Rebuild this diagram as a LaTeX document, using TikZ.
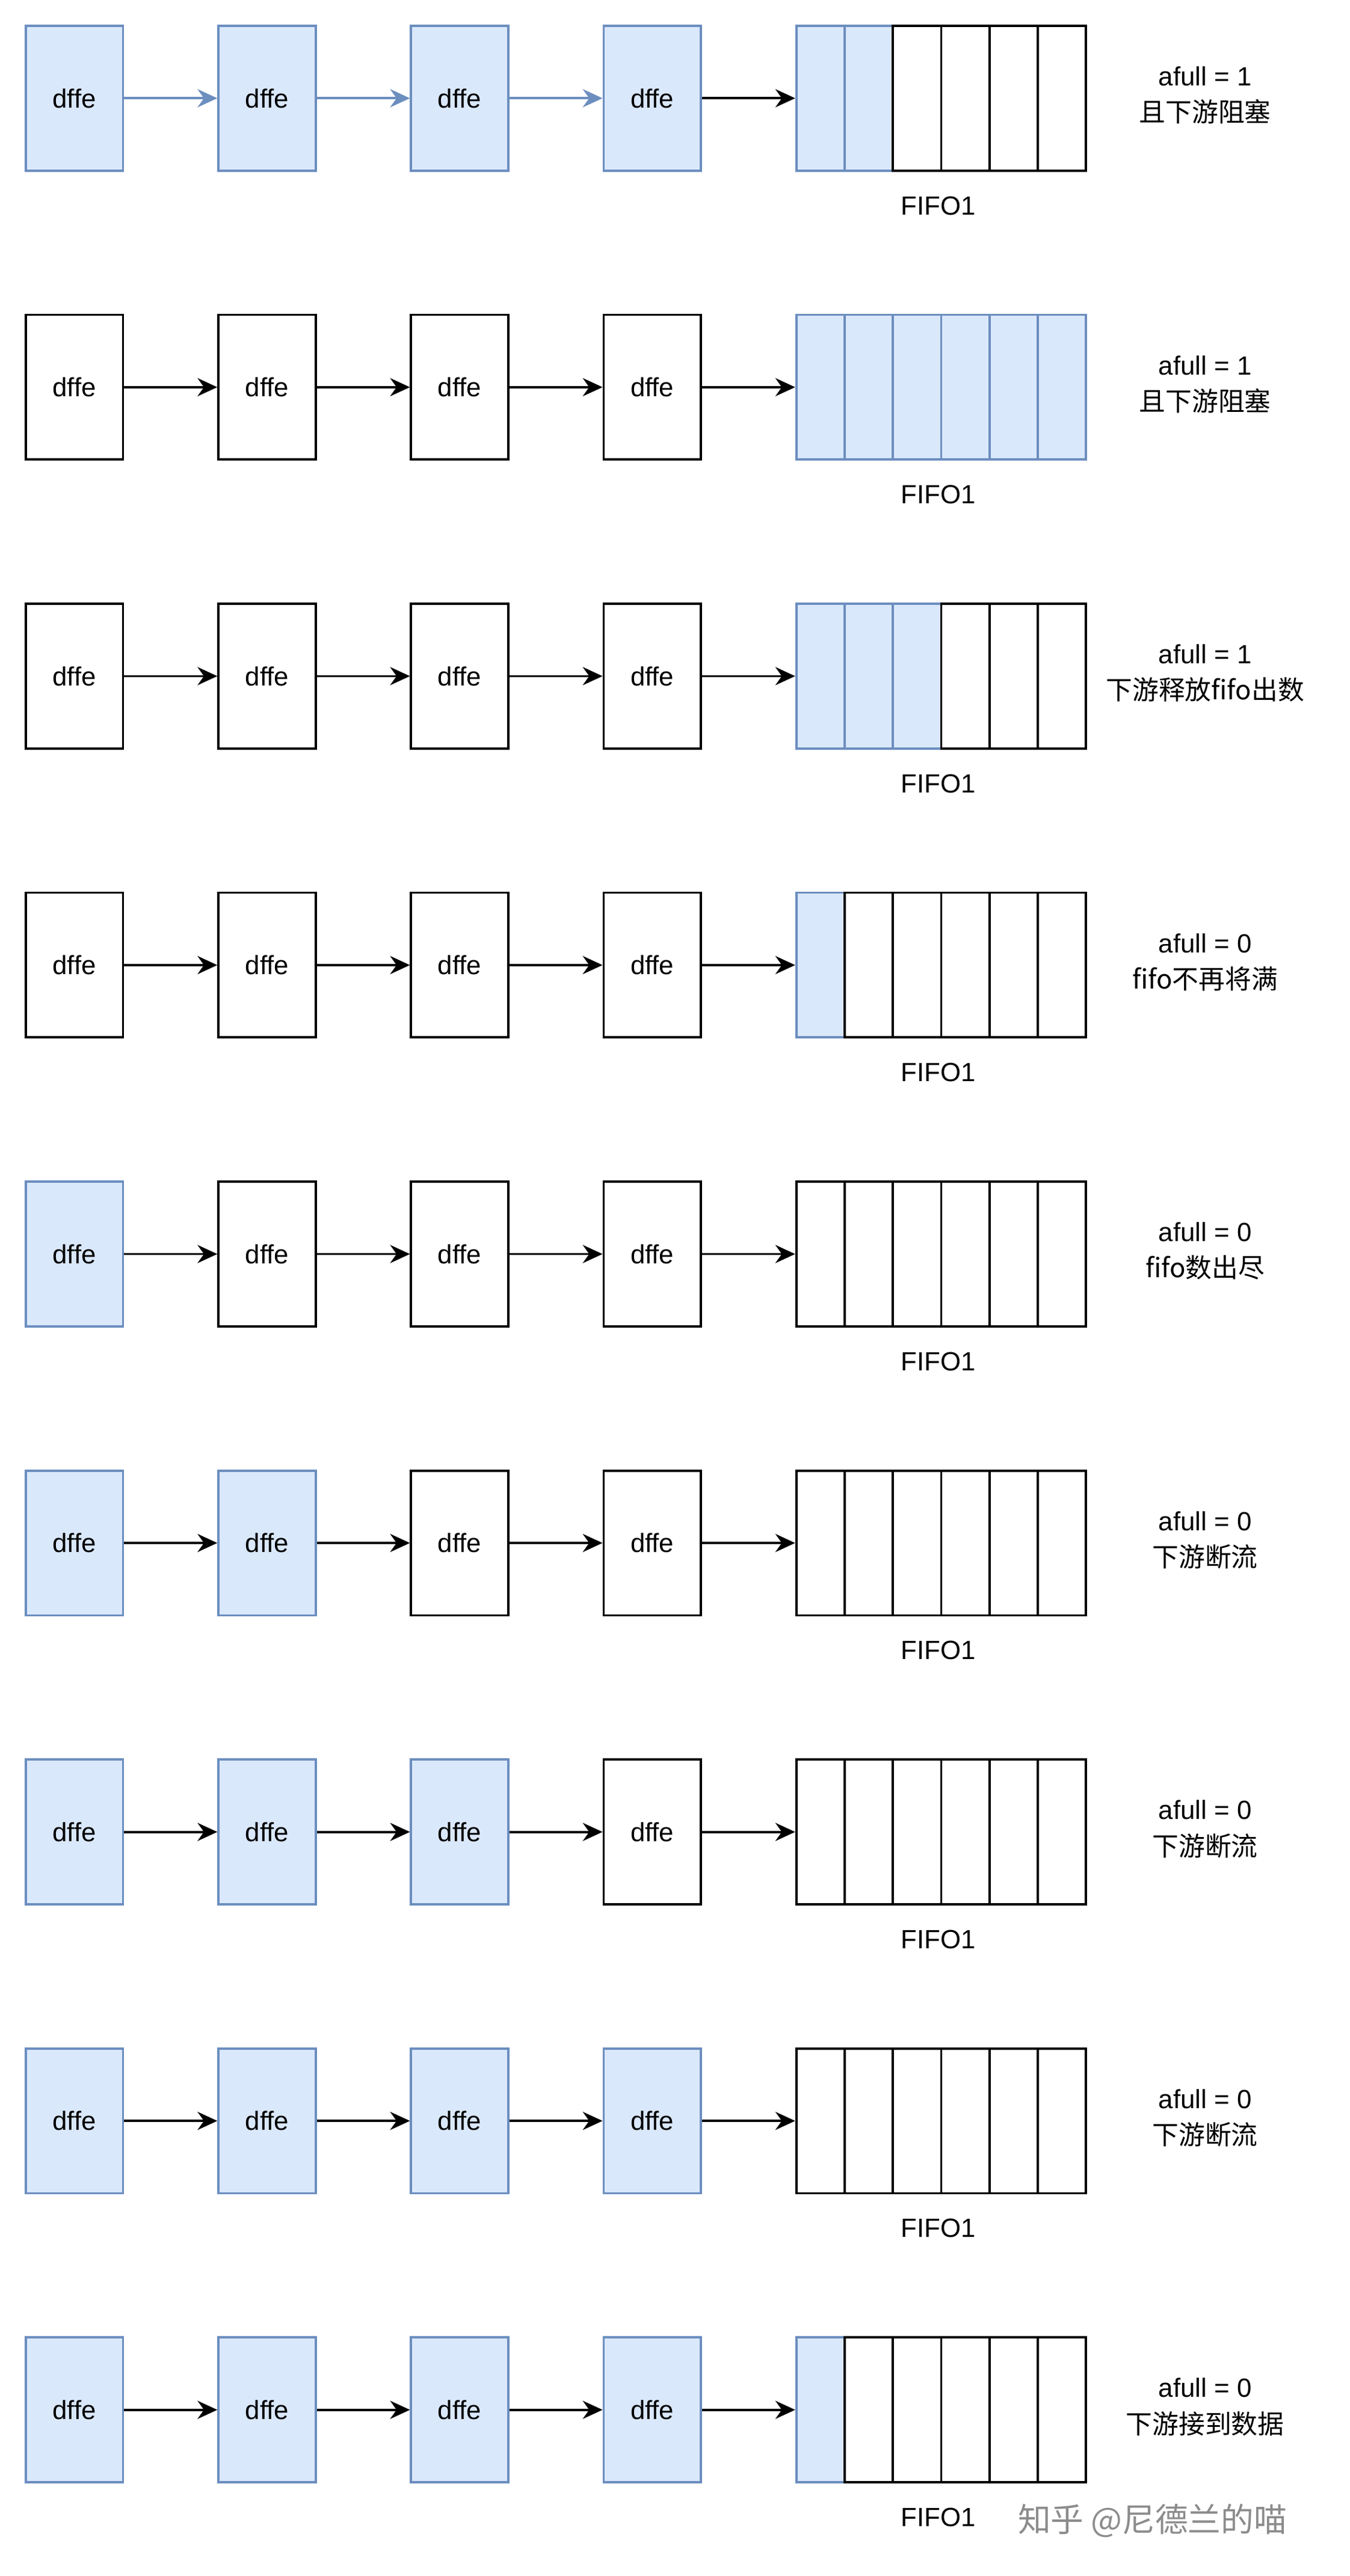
\documentclass[tikz,border=0pt]{standalone}
\usepackage{fontspec}
\setmainfont{Liberation Sans}
\newfontfamily\cjk{Noto Sans CJK SC}
\usetikzlibrary{arrows.meta}
\definecolor{bfill}{HTML}{DAE8FC}
\definecolor{bline}{HTML}{6C8EBF}
\tikzset{
 cell/.style={draw=black,line width=1.4pt,fill=white},
 bcell/.style={draw=bline,line width=1.4pt,fill=bfill},
 conn/.style={-{Stealth[length=12pt,width=11pt]},line width=1.4pt},
 lbl/.style={font=\fontsize{16}{22}\selectfont},
}
\begin{document}
\begin{tikzpicture}[x=1pt,y=-1pt]
\useasboundingbox (0,0) rectangle (820,1565.5);
\foreach \r/\nd/\nf/\la/\lb [count=\i from 0] in {
 0/4/2/{afull = 1}/{且下游阻塞},
 1/0/6/{afull = 1}/{且下游阻塞},
 2/0/3/{afull = 1}/{下游释放fifo出数},
 3/0/1/{afull = 0}/{fifo不再将满},
 4/1/0/{afull = 0}/{fifo数出尽},
 5/2/0/{afull = 0}/{下游断流},
 6/3/0/{afull = 0}/{下游断流},
 7/4/0/{afull = 0}/{下游断流},
 8/4/1/{afull = 0}/{下游接到数据}}{
 \pgfmathsetmacro\yt{15+175.6*\r}
 \foreach \k/\xl in {1/15,2/132,3/249,4/366}{
  \ifnum\k>\nd \def\st{cell}\else\def\st{bcell}\fi
  \node[\st,minimum width=59pt,minimum height=88pt,inner sep=0pt,anchor=north west,lbl] (d\i\k) at (\xl,\yt) {dffe};
 }
 \foreach \c in {1,...,6}{
  \ifnum\c>\nf \def\st{cell}\else\def\st{bcell}\fi
  \node[\st,minimum width=29.33pt,minimum height=88pt,inner sep=0pt,anchor=north west] (f\i\c) at ({483+29.33*(\c-1)},\yt) {};
 }
 \ifnum\r=0
  \draw[conn,draw=bline] (d\i1) -- (d\i2);
  \draw[conn,draw=bline] (d\i2) -- (d\i3);
  \draw[conn,draw=bline] (d\i3) -- (d\i4);
 \else
  \draw[conn] (d\i1) -- (d\i2);
  \draw[conn] (d\i2) -- (d\i3);
  \draw[conn] (d\i3) -- (d\i4);
 \fi
 \draw[conn] (d\i4) -- (f\i1.west);
 \node[lbl] (fl\i) at (570,\yt+110) {FIFO1};
 \node[lbl,align=center] (t\i) at (732,\yt+43) {\la\\{\cjk\lb}};
}
\node[font=\cjk\fontsize{20}{24}\selectfont,text=black!45] (wm) at (700,1532) {知乎 @尼德兰的喵};
\end{tikzpicture}
\end{document}
